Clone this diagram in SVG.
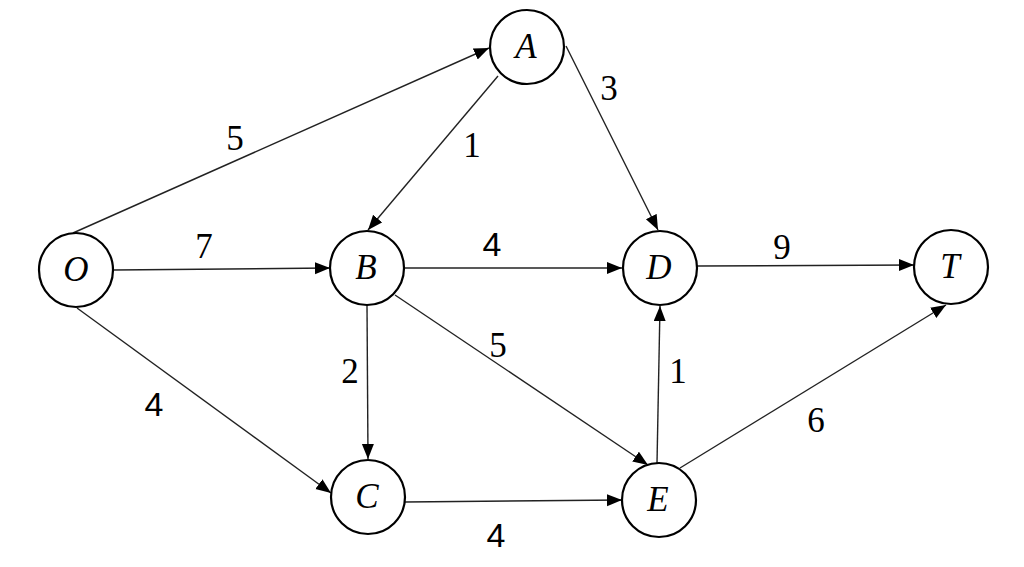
<svg xmlns="http://www.w3.org/2000/svg" width="1024" height="567" viewBox="0 0 1024 567">
<style>
.node circle{fill:#fff;stroke:#000;stroke-width:2.2}
.node text{font-family:"Liberation Serif","Times New Roman",serif;font-style:italic;font-size:35px;text-anchor:middle;fill:#000}
.edge{stroke:#222;stroke-width:1.4;fill:none;marker-end:url(#arr)}
.w{font-family:"Liberation Serif","Times New Roman",serif;font-size:35px;text-anchor:middle;fill:#000}
.ws{font-family:"Liberation Sans",Arial,sans-serif;font-size:34px;text-anchor:middle;fill:#000}
</style>
<defs>
<marker id="arr" markerUnits="userSpaceOnUse" markerWidth="16" markerHeight="14" refX="15" refY="6" orient="auto">
<path d="M0,0 L15,6 L0,12 z" fill="#000"/>
</marker>
</defs>
<rect width="1024" height="567" fill="#fff"/>
<g id="connectors">
<line class="edge" x1="73" y1="233" x2="489" y2="48"/>
<line class="edge" x1="114" y1="270" x2="330" y2="268"/>
<line class="edge" x1="77" y1="308" x2="331" y2="493"/>
<line class="edge" x1="498" y1="76" x2="368" y2="230"/>
<line class="edge" x1="566" y1="46" x2="658" y2="230"/>
<line class="edge" x1="404" y1="268" x2="622" y2="268"/>
<line class="edge" x1="697" y1="266" x2="914" y2="265"/>
<line class="edge" x1="367" y1="305" x2="368" y2="459"/>
<line class="edge" x1="405" y1="502" x2="622" y2="500"/>
<line class="edge" x1="395" y1="295" x2="648" y2="465"/>
<line class="edge" x1="657" y1="463" x2="660" y2="306"/>
<line class="edge" x1="680" y1="468" x2="946" y2="305"/>
</g>
<g id="weights">
<text class="w" x="235" y="150">5</text>
<text class="w" x="204" y="258">7</text>
<text class="ws" x="154" y="416">4</text>
<text class="w" x="472" y="157">1</text>
<text class="w" x="609" y="100">3</text>
<text class="ws" x="492" y="256">4</text>
<text class="w" x="782" y="259">9</text>
<text class="w" x="350" y="383">2</text>
<text class="w" x="498" y="357">5</text>
<text class="w" x="678" y="383">1</text>
<text class="w" x="816" y="432">6</text>
<text class="ws" x="496" y="547">4</text>
</g>
<g id="node-O" class="node"><circle cx="76" cy="270" r="37"/><text x="76" y="281">O</text></g>
<g id="node-A" class="node"><circle cx="527" cy="47" r="37"/><text x="526" y="58">A</text></g>
<g id="node-B" class="node"><circle cx="367" cy="268" r="37"/><text x="366" y="279">B</text></g>
<g id="node-D" class="node"><circle cx="660" cy="268" r="37"/><text x="659" y="279">D</text></g>
<g id="node-T" class="node"><circle cx="951" cy="267" r="37"/><text x="950" y="278">T</text></g>
<g id="node-C" class="node"><circle cx="368" cy="497" r="37"/><text x="367" y="508">C</text></g>
<g id="node-E" class="node"><circle cx="659" cy="500" r="37"/><text x="658" y="511">E</text></g>
</svg>
